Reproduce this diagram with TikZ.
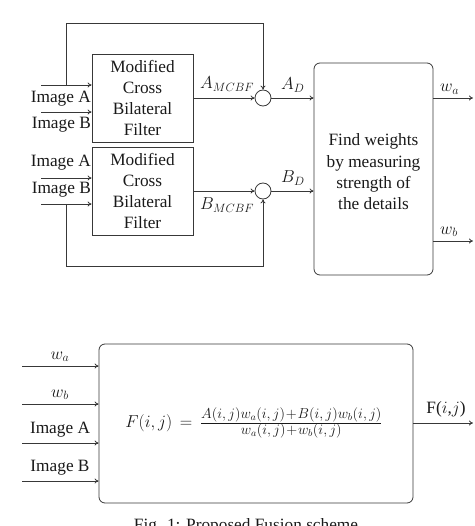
\documentclass[tikz,border=0pt]{standalone}
\usepackage{fontspec}
\setmainfont{Liberation Serif}
\usetikzlibrary{arrows.meta}
\newcommand{\fracpart}[1]{\mbox{\fontsize{14.5}{16}\selectfont$#1$}}
\begin{document}
\begin{tikzpicture}[x=1pt,y=-1pt,
  every node/.style={font=\fontsize{17.28}{21.3}\selectfont, text=black!90},
  ln/.style={line width=0.8pt, draw=black!78},
  arr/.style={ln, -{To[length=4pt,width=5pt]}},
  filt/.style={ln, rectangle, minimum width=101pt, minimum height=88pt, inner sep=0pt, align=center},
  sumc/.style={ln, circle, minimum size=16pt, inner sep=0pt},
  bigbox/.style={ln, rectangle, rounded corners=6pt, inner sep=0pt},
  lbl/.style={inner sep=0pt}]
\useasboundingbox (0,0) rectangle (474,526);

% top filter branch
\node[filt] (box1) at (142.5,98) {Modified\\Cross\\Bilateral\\Filter};
\node[filt] (box2) at (142.5,191) {Modified\\Cross\\Bilateral\\Filter};
\node[sumc] (c1) at (263,98) {};
\node[sumc] (c2) at (263,191) {};
\node[bigbox, minimum width=119pt, minimum height=212pt] (big) at (373.5,169) {};
\node[lbl, align=center] (bigt) at (373.5,172) {Find weights\\by measuring\\strength of\\the details};

\coordinate (ia1) at (41,85);
\coordinate (ib1) at (41,112);
\coordinate (ia2) at (41,178);
\coordinate (ib2) at (41,204);
\coordinate (br1) at (66,85);
\coordinate (br2) at (66,204);
\coordinate (top1) at (66,23);
\coordinate (bot2) at (66,266);

\draw[arr] (ia1) -- (ia1 -| box1.west);
\draw[arr] (ib1) -- (ib1 -| box1.west);
\draw[arr] (ia2) -- (ia2 -| box2.west);
\draw[arr] (ib2) -- (ib2 -| box2.west);
\draw[arr] (br1) -- (top1) -| (c1.north);
\draw[arr] (br2) -- (bot2) -| (c2.south);
\draw[arr] (box1.east) -- (c1.west);
\draw[arr] (box2.east) -- (c2.west);
\draw[arr] (c1.east) -- (c1.east -| big.west);
\draw[arr] (c2.east) -- (c2.east -| big.west);

\coordinate (wa) at (473,98);
\coordinate (wb) at (473,241);
\draw[arr] (wa -| big.east) -- (wa);
\draw[arr] (wb -| big.east) -- (wb);

\node[lbl, anchor=base east] (la1) at (91,103) {Image A};
\node[lbl, anchor=base east] (lb1) at (91,129) {Image B};
\node[lbl, anchor=base east] (la2) at (91,167) {Image A};
\node[lbl, anchor=base east] (lb2) at (91,194) {Image B};
\node[lbl, anchor=base west] (lam) at (200,89) {$A_{MCBF}$};
\node[lbl, anchor=base west] (lbm) at (200,210) {$B_{MCBF}$};
\node[lbl, anchor=base west] (lad) at (281,90) {$A_D$};
\node[lbl, anchor=base west] (lbd) at (281,183) {$B_D$};
\node[lbl, anchor=base west] (lwa) at (440,92) {$w_a$};
\node[lbl, anchor=base west] (lwb) at (440,234) {$w_b$};

% fusion block
\node[bigbox, minimum width=314pt, minimum height=159pt] (fbox) at (256,423.5) {};
\node[lbl] (form) at (254,423) {$F(i,j)\,=\,\frac{\fracpart{A(i,j)w_a(i,j)\!+\!B(i,j)w_b(i,j)}}{\fracpart{w_a(i,j)\!+\!w_b(i,j)}}$};

\coordinate (in1) at (22,366);
\coordinate (in2) at (22,404);
\coordinate (in3) at (22,443);
\coordinate (in4) at (22,481);
\draw[arr] (in1) -- (in1 -| fbox.west);
\draw[arr] (in2) -- (in2 -| fbox.west);
\draw[arr] (in3) -- (in3 -| fbox.west);
\draw[arr] (in4) -- (in4 -| fbox.west);
\coordinate (fo) at (473,423);
\draw[arr] (fo -| fbox.east) -- (fo);

\node[lbl, anchor=base] (l1) at (60,359) {$w_a$};
\node[lbl, anchor=base] (l2) at (60,397) {$w_b$};
\node[lbl, anchor=base] (l3) at (60,433) {Image A};
\node[lbl, anchor=base] (l4) at (60,471) {Image B};
\node[lbl, anchor=base] (lf) at (446,413) {F($i$,$j$)};

\node[lbl, anchor=base] (cap) at (246,530) {Fig. 1: Proposed Fusion scheme};
\end{tikzpicture}
\end{document}
